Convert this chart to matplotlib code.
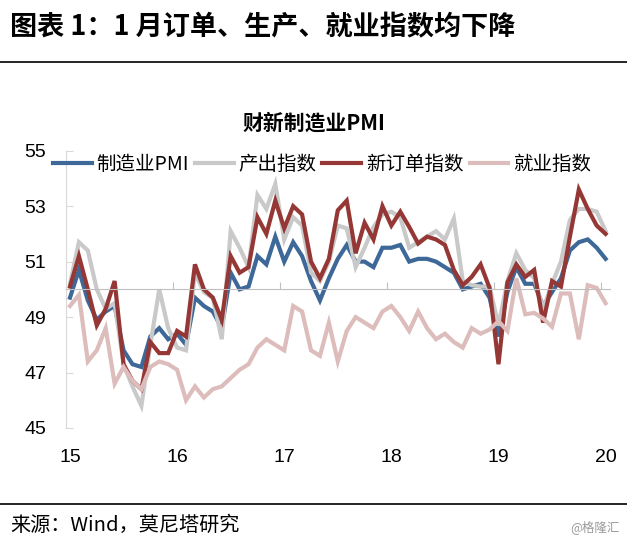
import matplotlib
matplotlib.use("agg")
import matplotlib.pyplot as plt
from matplotlib.lines import Line2D
from matplotlib import rcParams

rcParams['font.family'] = ['Noto Sans CJK SC', 'DejaVu Sans']

# monthly, Jan 2015 .. Jan 2020
year_labels = ["15", "16", "17", "18", "19", "20"]

pmi = [49.7, 50.7, 49.6, 48.9, 49.2, 49.4, 47.8, 47.3, 47.2, 48.3, 48.6, 48.2,
       48.4, 48.0, 49.7, 49.4, 49.2, 48.6, 50.6, 50.0, 50.1, 51.2, 50.9, 51.9,
       51.0, 51.7, 51.2, 50.3, 49.6, 50.4, 51.1, 51.6, 51.0, 51.0, 50.8, 51.5,
       51.5, 51.6, 51.0, 51.1, 51.1, 51.0, 50.8, 50.6, 50.0, 50.1, 50.2, 49.7,
       48.3, 49.9, 50.8, 50.2, 50.2, 49.4, 49.9, 50.4, 51.4, 51.7, 51.8, 51.5,
       51.1]

output_idx = [50.2, 51.7, 51.4, 50.0, 49.3, 49.5, 47.3, 46.5, 45.8, 48.0, 50.0, 48.6,
              47.9, 47.8, 50.6, 49.9, 49.7, 48.2, 52.1, 51.5, 50.8, 53.4, 52.9, 53.8,
              51.8, 52.6, 52.3, 50.6, 50.3, 51.0, 52.3, 52.2, 50.8, 51.5, 52.25, 52.7,
              52.8, 52.6, 51.5, 51.7, 51.9, 52.1, 51.8, 52.55, 50.3, 50.15, 50.1, 50.1,
              48.7, 50.3, 51.3, 50.7, 50.4, 49.3, 50.2, 51.0, 52.5, 52.9, 52.9, 52.8,
              52.1]

new_orders = [50.1, 51.2, 50.0, 48.7, 49.3, 50.3, 47.3, 46.7, 46.4, 48.1, 47.7, 47.7,
              48.5, 48.3, 50.9, 50.0, 49.7, 48.9, 51.2, 50.6, 50.8, 52.6, 52.0, 53.2,
              52.2, 53.0, 52.7, 51.0, 50.4, 51.1, 52.85, 53.2, 51.3, 52.4, 51.8, 53.0,
              52.3, 52.8, 52.25, 51.65, 51.9, 51.8, 51.6, 50.7, 50.15, 50.45, 50.9, 50.05,
              47.3, 50.25, 50.9, 50.45, 50.7, 48.8, 50.3, 50.1, 51.9, 53.6, 52.9, 52.3,
              52.0]

employment = [49.4, 49.8, 47.4, 47.8, 48.6, 46.6, 47.2, 46.7, 46.4, 47.2, 47.4, 47.3,
              47.1, 46.0, 46.5, 46.1, 46.4, 46.5, 46.8, 47.1, 47.3, 47.9, 48.2, 48.0,
              47.8, 49.4, 49.2, 47.8, 47.6, 48.8, 47.4, 48.5, 49.0, 48.8, 48.6, 49.2,
              49.4, 49.0, 48.5, 49.2, 48.6, 48.2, 48.4, 48.1, 47.9, 48.6, 48.4, 48.55,
              48.85, 48.5, 50.4, 49.1, 49.15, 48.95, 48.65, 49.85, 49.85, 48.2, 50.15, 50.05,
              49.5]

series = [("制造业PMI", pmi, "#3D6898"),
          ("产出指数", output_idx, "#C9C9C9"),
          ("新订单指数", new_orders, "#953735"),
          ("就业指数", employment, "#DDBCBC")]

fig = plt.figure(figsize=(6.27, 5.45), dpi=100)
ax = fig.add_axes([0.1045, 0.2147, 0.8685, 0.5088])

x = list(range(len(pmi)))
for name, vals, col in series:
    ax.plot(x, vals, color=col, lw=3, label=name, solid_joinstyle="miter")

ax.set_xlim(-0.5, len(pmi) - 0.5)
ax.set_ylim(45, 55)
ax.set_yticks([45, 47, 49, 51, 53, 55])
ax.set_xticks([11.5 + 12 * k for k in range(5)])
ax.tick_params(axis="x", direction="in", length=5, color="#BFBFBF", labelbottom=False)
ax.tick_params(axis="y", direction="in", length=5, color="#D9D9D9", pad=14, labelsize=14)
for lab in ax.get_yticklabels():
    lab.set_family("Liberation Sans")

ax.spines["top"].set_visible(False)
ax.spines["right"].set_visible(False)
ax.spines["left"].set_color("#D9D9D9")
ax.spines["bottom"].set_position(("data", 50))
ax.spines["bottom"].set_color("#BFBFBF")

for k, lab in enumerate(year_labels):
    ax.text(12 * k, -0.108, lab, transform=ax.get_xaxis_transform(),
            ha="center", va="center", fontsize=14, family="Liberation Sans")

ax.legend(loc="center", bbox_to_anchor=(0.471, 0.952), ncol=4, frameon=False,
          fontsize=14, handlelength=2.0, handletextpad=0.25, columnspacing=0.3,
          borderaxespad=0)

fig.text(0.5008, 1 - 123 / 545, "财新制造业PMI", ha="center", va="center",
         fontsize=15, fontweight="bold")

fig.text(10 / 627, 1 - 27 / 545, "图表 1：1 月订单、生产、就业指数均下降",
         ha="left", va="center", fontsize=19.5, fontweight="bold")
fig.add_artist(Line2D([0, 1], [1 - 62 / 545] * 2, color="black", lw=1.2))
fig.add_artist(Line2D([0, 1], [1 - 504 / 545] * 2, color="black", lw=1.2))
fig.text(10 / 627, 1 - 525 / 545, "来源：Wind，莫尼塔研究", ha="left", va="center",
         fontsize=14.5)
fig.text(620 / 627, 1 - 527 / 545, "@格隆汇", ha="right", va="center",
         fontsize=9, color="#9A9A9A")

plt.savefig("out.png", dpi=100)
